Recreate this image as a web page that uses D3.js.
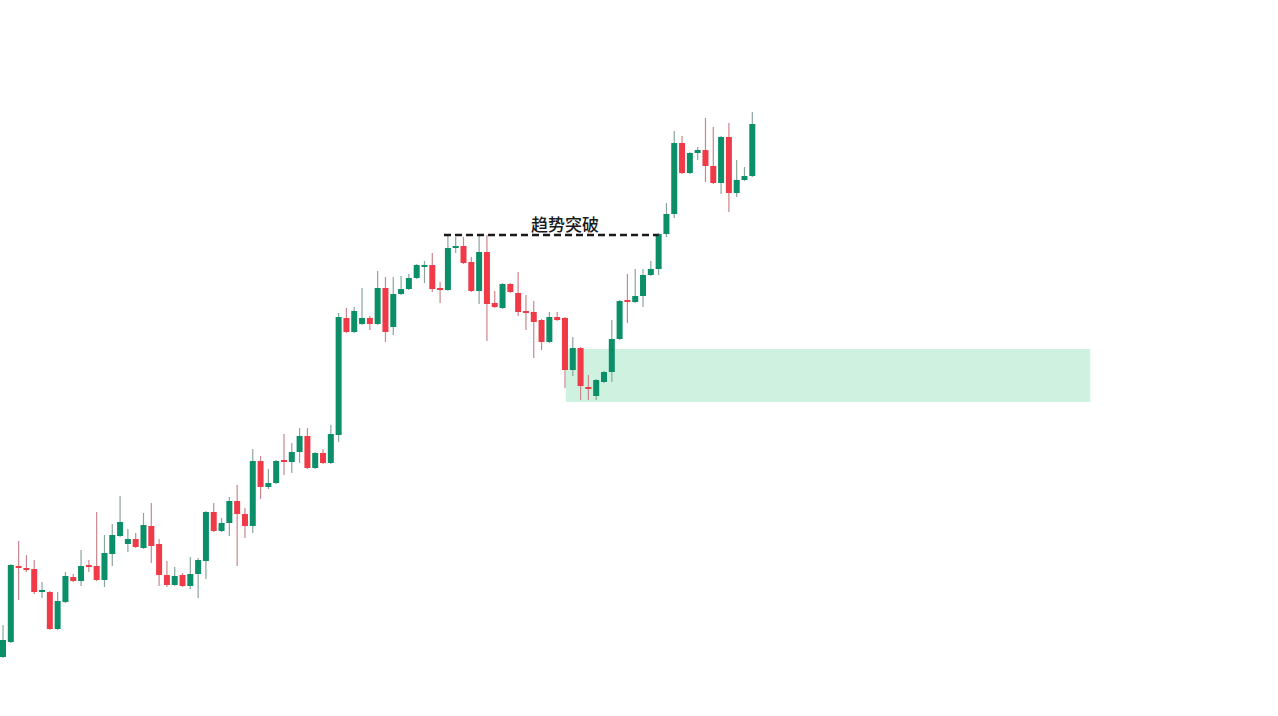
<!DOCTYPE html>
<html><head><meta charset="utf-8">
<script src="https://cdn.jsdelivr.net/npm/d3@7"></script>
<style>html,body{margin:0;padding:0;background:#fff;}svg{display:block;}</style>
</head><body>
<svg id="chart" width="1278" height="716"></svg>
<script>
const opens  = [100.3,101.8,109.4,109.2,109.1,106.9,106.8,103.1,105.8,108.3,107.9,109.5,109.4,108.0,110.6,112.4,111.6,112.1,111.2,113.4,111.6,108.5,107.5,108.5,107.4,108.6,109.9,114.8,112.9,113.7,115.9,114.6,113.4,119.9,117.3,117.7,120.0,119.8,120.8,122.4,119.2,120.7,119.7,122.5,134.2,132.8,133.6,134.2,133.6,137.2,133.3,136.6,137.1,138.2,139.4,139.5,137.2,137.0,141.2,141.4,139.8,136.9,140.8,135.7,135.2,137.6,136.7,134.9,134.8,134.0,131.8,134.3,134.2,129.0,131.2,127.3,126.4,127.8,128.8,132.1,136.0,135.8,136.4,138.5,139.1,142.6,144.6,151.7,148.7,150.7,151.0,149.4,147.7,152.3,146.7,148.0,148.4];
const highs  = [103.5,109.6,111.9,110.5,110.0,107.8,106.9,106.8,108.8,108.6,111.0,110.0,114.8,112.5,113.6,116.4,113.1,112.7,114.7,115.7,112.1,109.9,109.3,108.7,110.3,110.2,114.9,115.7,114.2,116.3,117.5,115.2,121.1,120.4,119.1,120.0,122.6,121.7,123.2,123.2,120.8,121.1,123.5,134.7,135.2,135.3,137.2,134.4,138.9,138.3,138.3,138.4,138.6,139.6,139.9,140.7,137.8,142.5,142.3,142.3,140.3,142.5,142.5,136.9,137.7,137.7,138.8,136.5,135.9,134.1,134.8,134.8,134.3,132.3,131.3,128.5,128.1,128.9,134.0,136.0,138.6,139.1,139.1,139.9,142.7,145.7,152.9,152.4,150.8,151.3,154.2,153.3,152.4,153.7,150.0,149.3,154.8];
const lows   = [100.2,101.7,106.0,108.8,106.6,106.2,103.0,103.0,105.7,107.8,107.4,108.8,107.9,107.3,109.4,112.3,110.8,111.2,111.1,109.7,107.4,107.3,107.4,107.3,107.1,106.2,108.1,112.8,112.8,112.4,109.4,112.2,112.7,116.1,117.1,117.6,118.5,118.7,119.7,119.1,119.1,119.6,119.6,121.8,132.7,132.7,133.5,133.0,133.5,131.8,132.5,136.5,137.0,138.1,137.7,136.8,135.7,136.9,140.7,139.6,136.8,135.6,131.9,135.2,135.1,136.7,134.4,133.0,130.2,131.0,131.7,133.9,127.2,128.4,126.0,126.0,126.0,127.7,127.8,132.0,133.7,135.7,135.3,138.4,138.5,142.3,144.2,148.6,148.6,150.0,147.8,147.6,146.6,144.8,146.3,147.9,148.3];
const closes = [102.0,109.5,109.2,109.0,106.8,107.0,103.1,105.9,108.4,107.9,109.4,109.4,108.0,110.7,112.5,113.8,112.1,111.3,113.5,111.4,108.5,107.5,108.4,107.4,108.6,110.0,114.8,112.9,113.7,115.9,114.6,113.4,119.9,117.3,117.7,119.9,119.9,120.8,122.4,119.2,120.7,119.7,122.6,134.3,132.8,134.9,134.2,133.6,137.2,132.8,136.6,137.1,138.2,139.5,139.5,137.1,137.0,141.2,141.4,139.7,136.9,140.8,135.6,135.3,137.6,136.8,134.8,134.8,133.8,131.8,134.3,134.0,129.0,131.2,127.4,127.1,128.0,128.8,132.1,135.9,135.9,136.4,138.5,139.1,142.6,144.6,151.7,148.7,150.7,151.0,149.4,147.7,152.3,146.7,148.0,148.4,153.6];

const breakoutLevel = 142.5;
const breakoutFrom = 56.5;
const breakoutTo = 84;
const breakoutLabel = "趋势突破";
const zoneFrom = 72.1;
const zoneTo = 139.3;
const zoneTop = 131.1;
const zoneBottom = 125.8;

const candles = opens.map((o,i)=>({i, o, h:highs[i], l:lows[i], c:closes[i]}));

const svg = d3.select("#chart");
const x = d3.scaleLinear().domain([0, 96]).range([3, 752.3]);
const y = d3.scaleLinear().domain([100, 150]).range([660, 160]);
const bodyW = 6;

const GREEN = "#0b8f69", RED = "#f03a47";
const GREEN_WICK = "#8aa59c", RED_WICK = "#c9868c";

// demand zone
svg.append("rect")
  .attr("x", x(zoneFrom)).attr("y", y(zoneTop))
  .attr("width", x(zoneTo) - x(zoneFrom))
  .attr("height", y(zoneBottom) - y(zoneTop))
  .attr("fill", "#cff2e0");

// candles
const g = svg.append("g");
const cg = g.selectAll("g.c").data(candles).join("g").attr("class","c");
cg.append("line")
  .attr("x1", d=>x(d.i)).attr("x2", d=>x(d.i))
  .attr("y1", d=>y(d.h)).attr("y2", d=>y(d.l))
  .attr("stroke", d=> d.c>=d.o ? GREEN_WICK : RED_WICK)
  .attr("stroke-width", 1.2);
cg.append("rect")
  .attr("x", d=>x(d.i)-bodyW/2)
  .attr("y", d=>y(Math.max(d.o,d.c)))
  .attr("width", bodyW)
  .attr("height", d=>Math.max(2, Math.abs(y(d.o)-y(d.c))))
  .attr("fill", d=> d.c>=d.o ? GREEN : RED);

// breakout line
svg.append("line")
  .attr("x1", x(breakoutFrom)).attr("x2", x(breakoutTo))
  .attr("y1", y(breakoutLevel)).attr("y2", y(breakoutLevel))
  .attr("stroke", "#1a1a1a").attr("stroke-width", 2.4)
  .attr("stroke-dasharray", "7,4");

svg.append("text")
  .attr("x", x(72)).attr("y", y(breakoutLevel) - 4)
  .attr("text-anchor", "middle")
  .attr("font-family", "Noto Sans CJK SC, sans-serif")
  .attr("font-size", 17)
  .attr("font-weight", 500)
  .attr("fill", "#1a1a1a")
  .text(breakoutLabel);
</script>
</body></html>
